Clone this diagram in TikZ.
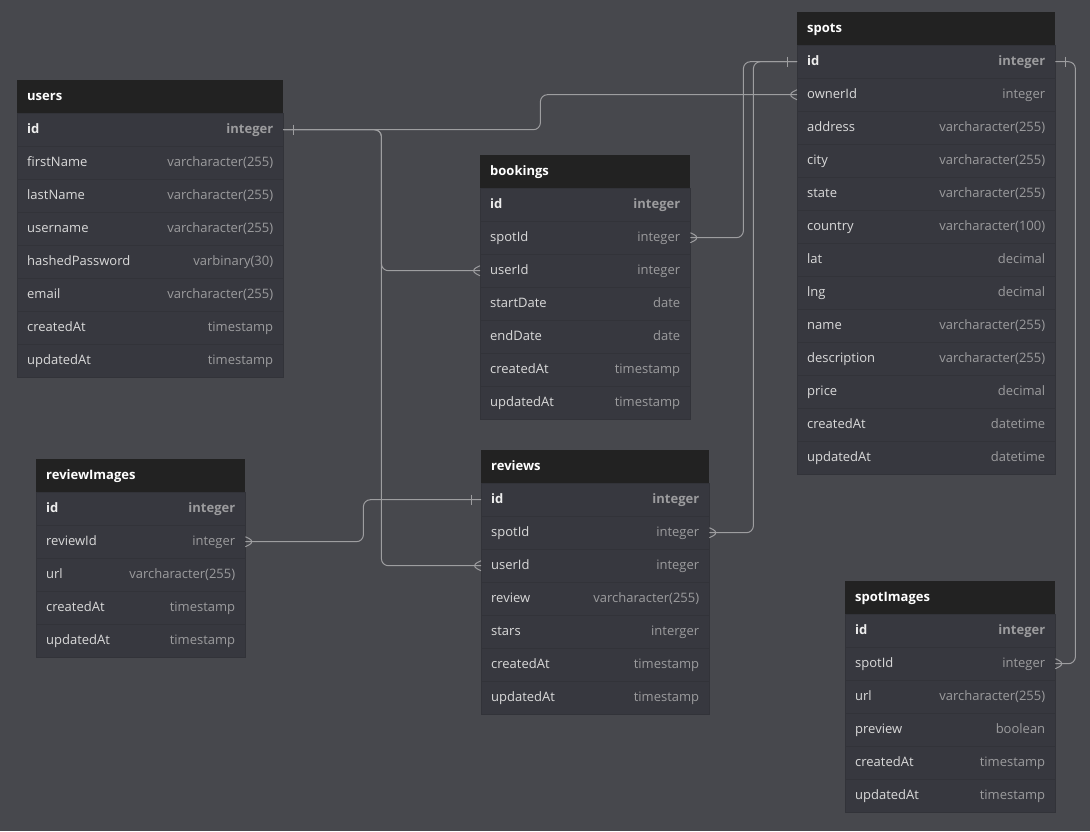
\documentclass[tikz,border=0pt]{standalone}
\usepackage{fontspec}
\setmainfont{Open Sans}
\usetikzlibrary{positioning,calc}
\definecolor{CanvasBg}{RGB}{71,72,77}
\definecolor{HeadFill}{RGB}{34,34,34}
\definecolor{RowFill}{RGB}{55,56,63}
\definecolor{RowLine}{RGB}{50,51,57}
\definecolor{NameText}{RGB}{218,218,218}
\definecolor{KeyText}{RGB}{238,238,238}
\definecolor{TypeText}{RGB}{156,156,158}
\definecolor{LinkColor}{RGB}{158,158,160}
\newcommand{\erfont}{\fontsize{13}{15}\selectfont}
\tikzset{
  % Table header bar
  tabhead/.style={
    rectangle,
    fill=HeadFill,
    minimum height=33pt,
    inner sep=0pt,
    anchor=north west
  },
  % Header title
  headtext/.style={font=\erfont\bfseries, text=white, anchor=base west, inner sep=0pt},
  % Field row
  tabrow/.style={
    rectangle,
    fill=RowFill,
    draw=RowLine,
    minimum height=33pt,
    inner sep=0pt,
    anchor=north west
  },
  % Field name and type
  fieldname/.style={font=\erfont, text=NameText, anchor=base west, inner sep=0pt},
  fieldtype/.style={font=\erfont, text=TypeText, anchor=base east, inner sep=0pt},
  keyname/.style={font=\erfont\bfseries, text=KeyText, anchor=base west, inner sep=0pt},
  keytype/.style={font=\erfont\bfseries, text=TypeText, anchor=base east, inner sep=0pt},
  % Relation line
  rel/.style={
    draw=LinkColor,
    line width=1pt,
    rounded corners=7pt
  },
  % Ends of a relation (drawn for a west edge)
  manyend/.pic={\draw[rel] (0,-5) -- (-10,0) -- (0,5);},
  oneend/.pic={\draw[rel] (-10,-5) -- (-10,5);}
}
% name, x, y, width, title, fields
\newcommand{\ertable}[6]{%
  \node[tabhead, minimum width=#4pt] (#1) at (#2,#3) {};
  \node[headtext] (#1-title) at ([xshift=10pt,yshift=-3.8pt]#1.west) {#5};
  \foreach \f/\t [count=\i] in {#6} {
    \node[tabrow, minimum width=#4pt] (#1-\f) at (#2,{#3+33*\i}) {};
    \ifnum\i=1
      \node[keyname] (#1-\f-n) at ([xshift=10pt,yshift=-3.8pt]#1-\f.west) {\f};
      \node[keytype] (#1-\f-t) at ([xshift=-10pt,yshift=-3.8pt]#1-\f.east) {\t};
    \else
      \node[fieldname] (#1-\f-n) at ([xshift=10pt,yshift=-3.8pt]#1-\f.west) {\f};
      \node[fieldtype] (#1-\f-t) at ([xshift=-10pt,yshift=-3.8pt]#1-\f.east) {\t};
    \fi
  }%
}

\begin{document}
\begin{tikzpicture}[x=1pt, y=-1pt]
  % Canvas
  \fill[CanvasBg] (0,0) rectangle (1090,831);
  \useasboundingbox (0,0) rectangle (1090,831);

  % Tables
  \ertable{users}{17}{80}{266}{users}{id/integer, firstName/varcharacter(255), lastName/varcharacter(255), username/varcharacter(255), hashedPassword/varbinary(30), email/varcharacter(255), createdAt/timestamp, updatedAt/timestamp}
  \ertable{bookings}{480}{155}{210}{bookings}{id/integer, spotId/integer, userId/integer, startDate/date, endDate/date, createdAt/timestamp, updatedAt/timestamp}
  \ertable{spots}{797}{12}{258}{spots}{id/integer, ownerId/integer, address/varcharacter(255), city/varcharacter(255), state/varcharacter(255), country/varcharacter(100), lat/decimal, lng/decimal, name/varcharacter(255), description/varcharacter(255), price/decimal, createdAt/datetime, updatedAt/datetime}
  \ertable{reviewImages}{36}{459}{209}{reviewImages}{id/integer, reviewId/integer, url/varcharacter(255), createdAt/timestamp, updatedAt/timestamp}
  \ertable{reviews}{481}{450}{228}{reviews}{id/integer, spotId/integer, userId/integer, review/varcharacter(255), stars/interger, createdAt/timestamp, updatedAt/timestamp}
  \ertable{spotImages}{845}{581}{210}{spotImages}{id/integer, spotId/integer, url/varcharacter(255), preview/boolean, createdAt/timestamp, updatedAt/timestamp}

  % Relations from users
  \draw[rel] (users-id.east) -- ++(98,0) |- (bookings-userId.west);
  \draw[rel] (users-id.east) -- ++(98,0) |- (reviews-userId.west);
  \draw[rel] (users-id.east) -- ++(257,0) |- (spots-ownerId.west);
  % Relations to spots
  \draw[rel] (bookings-spotId.east) -- ++(53,0) |- (spots-id.west);
  \draw[rel] (reviews-spotId.east) -- ++(44,0) |- (spots-id.west);
  \draw[rel] (spots-id.east) -- ++(20,0) |- (spotImages-spotId.east);
  % Relation to reviews
  \draw[rel] (reviewImages-reviewId.east) -- ++(118,0) |- (reviews-id.west);

  % Relation ends
  \pic[xscale=-1] at (users-id.east) {oneend};
  \pic at (spots-id.west) {oneend};
  \pic[xscale=-1] at (spots-id.east) {oneend};
  \pic at (reviews-id.west) {oneend};
  \foreach \e in {bookings-userId, reviews-userId, spots-ownerId} {
    \pic at (\e.west) {manyend};
  }
  \foreach \e in {bookings-spotId, reviews-spotId, spotImages-spotId, reviewImages-reviewId} {
    \pic[xscale=-1] at (\e.east) {manyend};
  }
\end{tikzpicture}
\end{document}
